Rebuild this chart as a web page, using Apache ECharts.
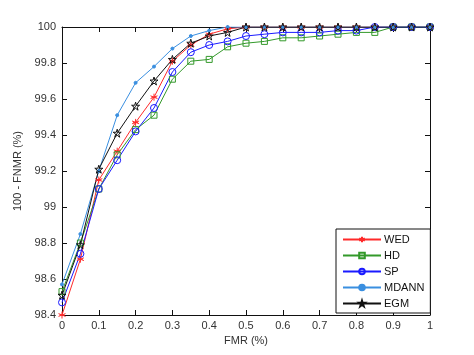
<!DOCTYPE html>
<html><head><meta charset="utf-8">
<script src="https://cdn.jsdelivr.net/npm/echarts@6/dist/echarts.min.js"></script>
<style>html,body{margin:0;padding:0;background:#fff}#c{width:474px;height:355px}</style>
</head><body><div id="c"></div>
<script>
const fmr = [0,0.05,0.1,0.15,0.2,0.25,0.3,0.35,0.4,0.45,0.5,0.55,0.6,0.65,0.7,0.75,0.8,0.85,0.9,0.95,1];
const WED   = [98.40,98.71,99.15,99.31,99.47,99.61,99.81,99.90,99.96,99.99,100,100,100,100,100,100,100,100,100,100,100];
const HD    = [98.53,98.80,99.10,99.29,99.43,99.51,99.71,99.81,99.82,99.89,99.91,99.92,99.94,99.94,99.95,99.96,99.97,99.97,100,100,100];
const SP    = [98.47,98.74,99.10,99.26,99.42,99.55,99.75,99.86,99.90,99.92,99.95,99.96,99.97,99.97,99.97,99.98,99.98,100,100,100,100];
const MDANN = [98.57,98.85,99.20,99.51,99.69,99.78,99.88,99.95,99.98,100,100,100,100,100,100,100,100,100,100,100,100];
const EGM   = [98.51,98.79,99.21,99.41,99.56,99.70,99.82,99.91,99.95,99.97,100,100,100,100,100,100,100,100,100,100,100];
const xTicks = [0,0.1,0.2,0.3,0.4,0.5,0.6,0.7,0.8,0.9,1];
const yTicks = [98.4,98.6,98.8,99,99.2,99.4,99.6,99.8,100];

const pair = arr => arr.map((v,i)=>[fmr[i], v]);
const star = 'path://M0,-1L0.2245,-0.309L0.951,-0.309L0.363,0.118L0.588,0.809L0,0.382L-0.588,0.809L-0.363,0.118L-0.951,-0.309L-0.2245,-0.309Z';
const aster = 'path://M0,-1L0,1M-0.7,-0.4L0.7,0.4M-0.7,0.4L0.7,-0.4M-0.5,0L0.5,0';
const font = 'Liberation Sans';
const txt = '#333';
const clear = 'rgba(0,0,0,0)';
const cMDANN = '#3a8fe0';

function mk(name, data, color, symbol, size, fillNone, bw){
  return {
    name, type:'line', data:pair(data), symbol, symbolSize:size, showSymbol:true,
    lineStyle:{color, width:1},
    itemStyle:{color: fillNone ? clear : color, borderColor:color, borderWidth: bw},
    emphasis:{disabled:true}, animation:false
  };
}
const axisCommon = ()=>({
  axisLine:{show:true, onZero:false, lineStyle:{color:'#111', width:1}},
  axisTick:{show:true, inside:true, length:5, lineStyle:{color:'#111'}},
  splitLine:{show:false}
});
const chart = echarts.init(document.getElementById('c'), null, {renderer:'canvas'});
chart.setOption({
  backgroundColor:'#fff',
  animation:false,
  grid:{left:62, right:44, top:27, bottom:40, containLabel:false},
  xAxis:[
    Object.assign({type:'value', min:xTicks[0], max:xTicks[xTicks.length-1], interval:0.1, position:'bottom',
      name:'FMR (%)', nameLocation:'middle', nameGap:20, nameTextStyle:{fontFamily:font, fontSize:11, color:txt},
      axisLabel:{fontFamily:font, fontSize:11, color:txt, margin:5, formatter:v=>String(+v.toFixed(1))}}, axisCommon()),
    Object.assign({type:'value', min:0, max:1, interval:0.1, position:'top', axisLabel:{show:false}}, axisCommon())
  ],
  yAxis:[
    Object.assign({type:'value', min:yTicks[0], max:yTicks[yTicks.length-1], interval:0.2, position:'left',
      name:'100 - FNMR (%)', nameLocation:'middle', nameGap:38, nameTextStyle:{fontFamily:font, fontSize:11, color:txt},
      axisLabel:{fontFamily:font, fontSize:11, color:txt, margin:6, formatter:v=>String(+v.toFixed(1))}}, axisCommon()),
    Object.assign({type:'value', min:98.4, max:100, interval:0.2, position:'right', axisLabel:{show:false}}, axisCommon())
  ],
  legend:{
    orient:'vertical', left:336, top:229, width:94,
    backgroundColor:'#fff', borderColor:'#111', borderWidth:1, borderRadius:0,
    padding:[5,6,4,6], itemGap:5, itemWidth:38, itemHeight:7,
    itemStyle:{color:clear},
    textStyle:{fontFamily:font, fontSize:11, color:'#111', padding:[0,0,0,-2]},
    data:['WED','HD','SP',{name:'MDANN', itemStyle:{color:cMDANN}},'EGM']
  },
  series:[
    mk('WED', WED, '#ff2a2a', aster, 7, false, 1),
    mk('HD', HD, '#33992a', 'rect', 6, true, 1),
    mk('SP', SP, '#1a1aff', 'circle', 7, true, 1),
    mk('MDANN', MDANN, cMDANN, 'circle', 3, false, 1),
    mk('EGM', EGM, '#111111', star, 8, true, 1)
  ]
});
</script></body></html>
